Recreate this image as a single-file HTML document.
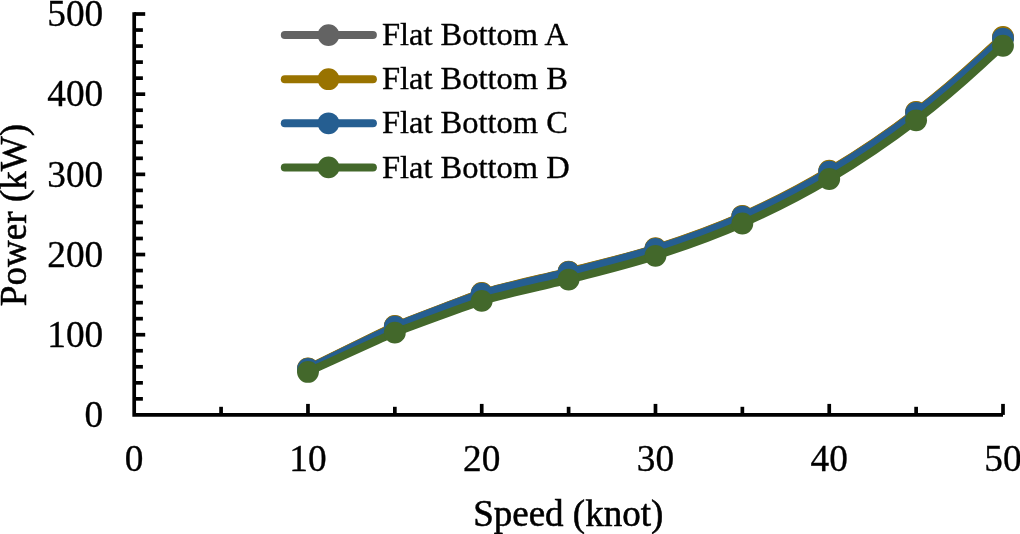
<!DOCTYPE html>
<html><head><meta charset="utf-8"><title>Power vs Speed</title>
<style>
html,body{margin:0;padding:0;background:#fff;}
body{width:1020px;height:534px;overflow:hidden;position:relative;}
svg text{font-family:"Liberation Serif",serif;fill:#000;stroke:#000;stroke-width:0.35px;}
</style></head><body>
<svg width="1020" height="534" viewBox="0 0 1020 534" style="position:absolute;left:0;top:0">
<g stroke="#000" stroke-width="3.7" fill="none" stroke-linecap="butt">
<path d="M134.20 12.20 V414.90 H1003.00"/>
<path d="M134.20 398.86 h8.70"/>
<path d="M134.20 382.83 h8.70"/>
<path d="M134.20 366.79 h8.70"/>
<path d="M134.20 350.76 h8.70"/>
<path d="M134.20 334.72 h11.00"/>
<path d="M134.20 318.68 h8.70"/>
<path d="M134.20 302.65 h8.70"/>
<path d="M134.20 286.61 h8.70"/>
<path d="M134.20 270.58 h8.70"/>
<path d="M134.20 254.54 h11.00"/>
<path d="M134.20 238.50 h8.70"/>
<path d="M134.20 222.47 h8.70"/>
<path d="M134.20 206.43 h8.70"/>
<path d="M134.20 190.40 h8.70"/>
<path d="M134.20 174.36 h11.00"/>
<path d="M134.20 158.32 h8.70"/>
<path d="M134.20 142.29 h8.70"/>
<path d="M134.20 126.25 h8.70"/>
<path d="M134.20 110.22 h8.70"/>
<path d="M134.20 94.18 h11.00"/>
<path d="M134.20 78.14 h8.70"/>
<path d="M134.20 62.11 h8.70"/>
<path d="M134.20 46.07 h8.70"/>
<path d="M134.20 30.04 h8.70"/>
<path d="M134.20 14.00 h11.00"/>
<path d="M221.08 414.90 v-8.10"/>
<path d="M307.96 414.90 v-11.00"/>
<path d="M394.84 414.90 v-8.10"/>
<path d="M481.72 414.90 v-11.00"/>
<path d="M568.60 414.90 v-8.10"/>
<path d="M655.48 414.90 v-11.00"/>
<path d="M742.36 414.90 v-8.10"/>
<path d="M829.24 414.90 v-11.00"/>
<path d="M916.12 414.90 v-8.10"/>
<path d="M1003.00 414.90 v-11.00"/>
</g>
<g fill="#636363" stroke="none">
<path d="M307.96 368.64 C311.44 366.94 387.89 329.24 394.84 326.22 C401.79 323.20 474.77 295.36 481.72 293.19 C499.10 287.74 551.22 276.24 568.60 271.78 C597.56 264.34 626.52 257.81 655.48 248.53 C684.44 239.24 713.40 228.95 742.36 216.05 C771.32 203.16 800.28 188.46 829.24 171.15 C858.20 153.85 887.16 134.51 916.12 112.22 C962.46 76.56 979.83 57.36 1003.00 37.41" fill="none" stroke="#636363" stroke-width="8" stroke-linecap="round" stroke-linejoin="round"/>
<circle cx="307.96" cy="368.64" r="10.9"/>
<circle cx="394.84" cy="326.22" r="10.9"/>
<circle cx="481.72" cy="293.19" r="10.9"/>
<circle cx="568.60" cy="271.78" r="10.9"/>
<circle cx="655.48" cy="248.53" r="10.9"/>
<circle cx="742.36" cy="216.05" r="10.9"/>
<circle cx="829.24" cy="171.15" r="10.9"/>
<circle cx="916.12" cy="112.22" r="10.9"/>
<circle cx="1003.00" cy="37.41" r="10.9"/>
</g>
<g fill="#997300" stroke="none">
<path d="M307.96 368.40 C311.44 366.70 387.89 329.00 394.84 325.98 C401.79 322.96 474.77 295.12 481.72 292.95 C499.10 287.50 551.22 276.01 568.60 271.54 C597.56 264.08 626.52 257.49 655.48 248.21 C684.44 238.92 713.40 228.72 742.36 215.81 C771.32 202.90 800.28 188.08 829.24 170.75 C858.20 153.42 887.16 134.11 916.12 111.82 C962.46 76.16 979.83 56.96 1003.00 37.01" fill="none" stroke="#997300" stroke-width="8" stroke-linecap="round" stroke-linejoin="round"/>
<circle cx="307.96" cy="368.40" r="10.9"/>
<circle cx="394.84" cy="325.98" r="10.9"/>
<circle cx="481.72" cy="292.95" r="10.9"/>
<circle cx="568.60" cy="271.54" r="10.9"/>
<circle cx="655.48" cy="248.21" r="10.9"/>
<circle cx="742.36" cy="215.81" r="10.9"/>
<circle cx="829.24" cy="170.75" r="10.9"/>
<circle cx="916.12" cy="111.82" r="10.9"/>
<circle cx="1003.00" cy="37.01" r="10.9"/>
</g>
<g fill="#255e91" stroke="none">
<path d="M307.96 368.88 C311.44 367.19 387.89 329.63 394.84 326.62 C401.79 323.61 474.77 295.77 481.72 293.59 C499.10 288.14 551.22 276.65 568.60 272.18 C597.56 264.74 626.52 258.20 655.48 248.93 C684.44 239.65 713.40 229.42 742.36 216.53 C771.32 203.65 800.28 188.91 829.24 171.63 C858.20 154.36 887.16 135.05 916.12 112.86 C962.46 77.37 979.83 58.36 1003.00 38.54" fill="none" stroke="#255e91" stroke-width="8" stroke-linecap="round" stroke-linejoin="round"/>
<circle cx="307.96" cy="368.88" r="10.9"/>
<circle cx="394.84" cy="326.62" r="10.9"/>
<circle cx="481.72" cy="293.59" r="10.9"/>
<circle cx="568.60" cy="272.18" r="10.9"/>
<circle cx="655.48" cy="248.93" r="10.9"/>
<circle cx="742.36" cy="216.53" r="10.9"/>
<circle cx="829.24" cy="171.63" r="10.9"/>
<circle cx="916.12" cy="112.86" r="10.9"/>
<circle cx="1003.00" cy="38.54" r="10.9"/>
</g>
<g fill="#43682b" stroke="none">
<path d="M307.96 371.92 C311.44 370.35 387.89 335.48 394.84 332.64 C401.79 329.79 474.77 303.01 481.72 300.88 C499.10 295.58 551.22 284.06 568.60 279.56 C597.56 272.05 626.52 265.16 655.48 255.82 C684.44 246.48 713.40 236.31 742.36 223.51 C771.32 210.71 800.28 196.21 829.24 179.01 C858.20 161.81 887.16 142.53 916.12 120.32 C962.46 84.78 979.83 65.64 1003.00 45.75" fill="none" stroke="#43682b" stroke-width="8" stroke-linecap="round" stroke-linejoin="round"/>
<circle cx="307.96" cy="371.92" r="10.9"/>
<circle cx="394.84" cy="332.64" r="10.9"/>
<circle cx="481.72" cy="300.88" r="10.9"/>
<circle cx="568.60" cy="279.56" r="10.9"/>
<circle cx="655.48" cy="255.82" r="10.9"/>
<circle cx="742.36" cy="223.51" r="10.9"/>
<circle cx="829.24" cy="179.01" r="10.9"/>
<circle cx="916.12" cy="120.32" r="10.9"/>
<circle cx="1003.00" cy="45.75" r="10.9"/>
</g>
<path d="M284.8 35.10 H372.9" stroke="#636363" stroke-width="8" stroke-linecap="round"/>
<circle cx="328.5" cy="35.10" r="10.9" fill="#636363"/>
<text x="381.9" y="45.25" font-size="32.5">Flat Bottom A</text>
<path d="M284.8 79.20 H372.9" stroke="#997300" stroke-width="8" stroke-linecap="round"/>
<circle cx="328.5" cy="79.20" r="10.9" fill="#997300"/>
<text x="381.9" y="89.35" font-size="32.5">Flat Bottom B</text>
<path d="M284.8 123.30 H372.9" stroke="#255e91" stroke-width="8" stroke-linecap="round"/>
<circle cx="328.5" cy="123.30" r="10.9" fill="#255e91"/>
<text x="381.9" y="133.45" font-size="32.5">Flat Bottom C</text>
<path d="M284.8 167.40 H372.9" stroke="#43682b" stroke-width="8" stroke-linecap="round"/>
<circle cx="328.5" cy="167.40" r="10.9" fill="#43682b"/>
<text x="381.9" y="177.55" font-size="32.5">Flat Bottom D</text>
<text x="103.2" y="427.20" font-size="37.3" text-anchor="end">0</text>
<text x="103.2" y="347.02" font-size="37.3" text-anchor="end">100</text>
<text x="103.2" y="266.84" font-size="37.3" text-anchor="end">200</text>
<text x="103.2" y="186.66" font-size="37.3" text-anchor="end">300</text>
<text x="103.2" y="106.48" font-size="37.3" text-anchor="end">400</text>
<text x="103.2" y="26.30" font-size="37.3" text-anchor="end">500</text>
<text x="134.20" y="470.7" font-size="37.3" text-anchor="middle">0</text>
<text x="307.96" y="470.7" font-size="37.3" text-anchor="middle">10</text>
<text x="481.72" y="470.7" font-size="37.3" text-anchor="middle">20</text>
<text x="655.48" y="470.7" font-size="37.3" text-anchor="middle">30</text>
<text x="829.24" y="470.7" font-size="37.3" text-anchor="middle">40</text>
<text x="1003.00" y="470.7" font-size="37.3" text-anchor="middle">50</text>
<text x="568.2" y="526.3" font-size="37" text-anchor="middle" style="stroke-width:0.55px">Speed (knot)</text>
<text transform="translate(26.2 215) rotate(-90)" font-size="37.1" text-anchor="middle" style="stroke-width:0.5px">Power (kW)</text>
</svg>
</body></html>
